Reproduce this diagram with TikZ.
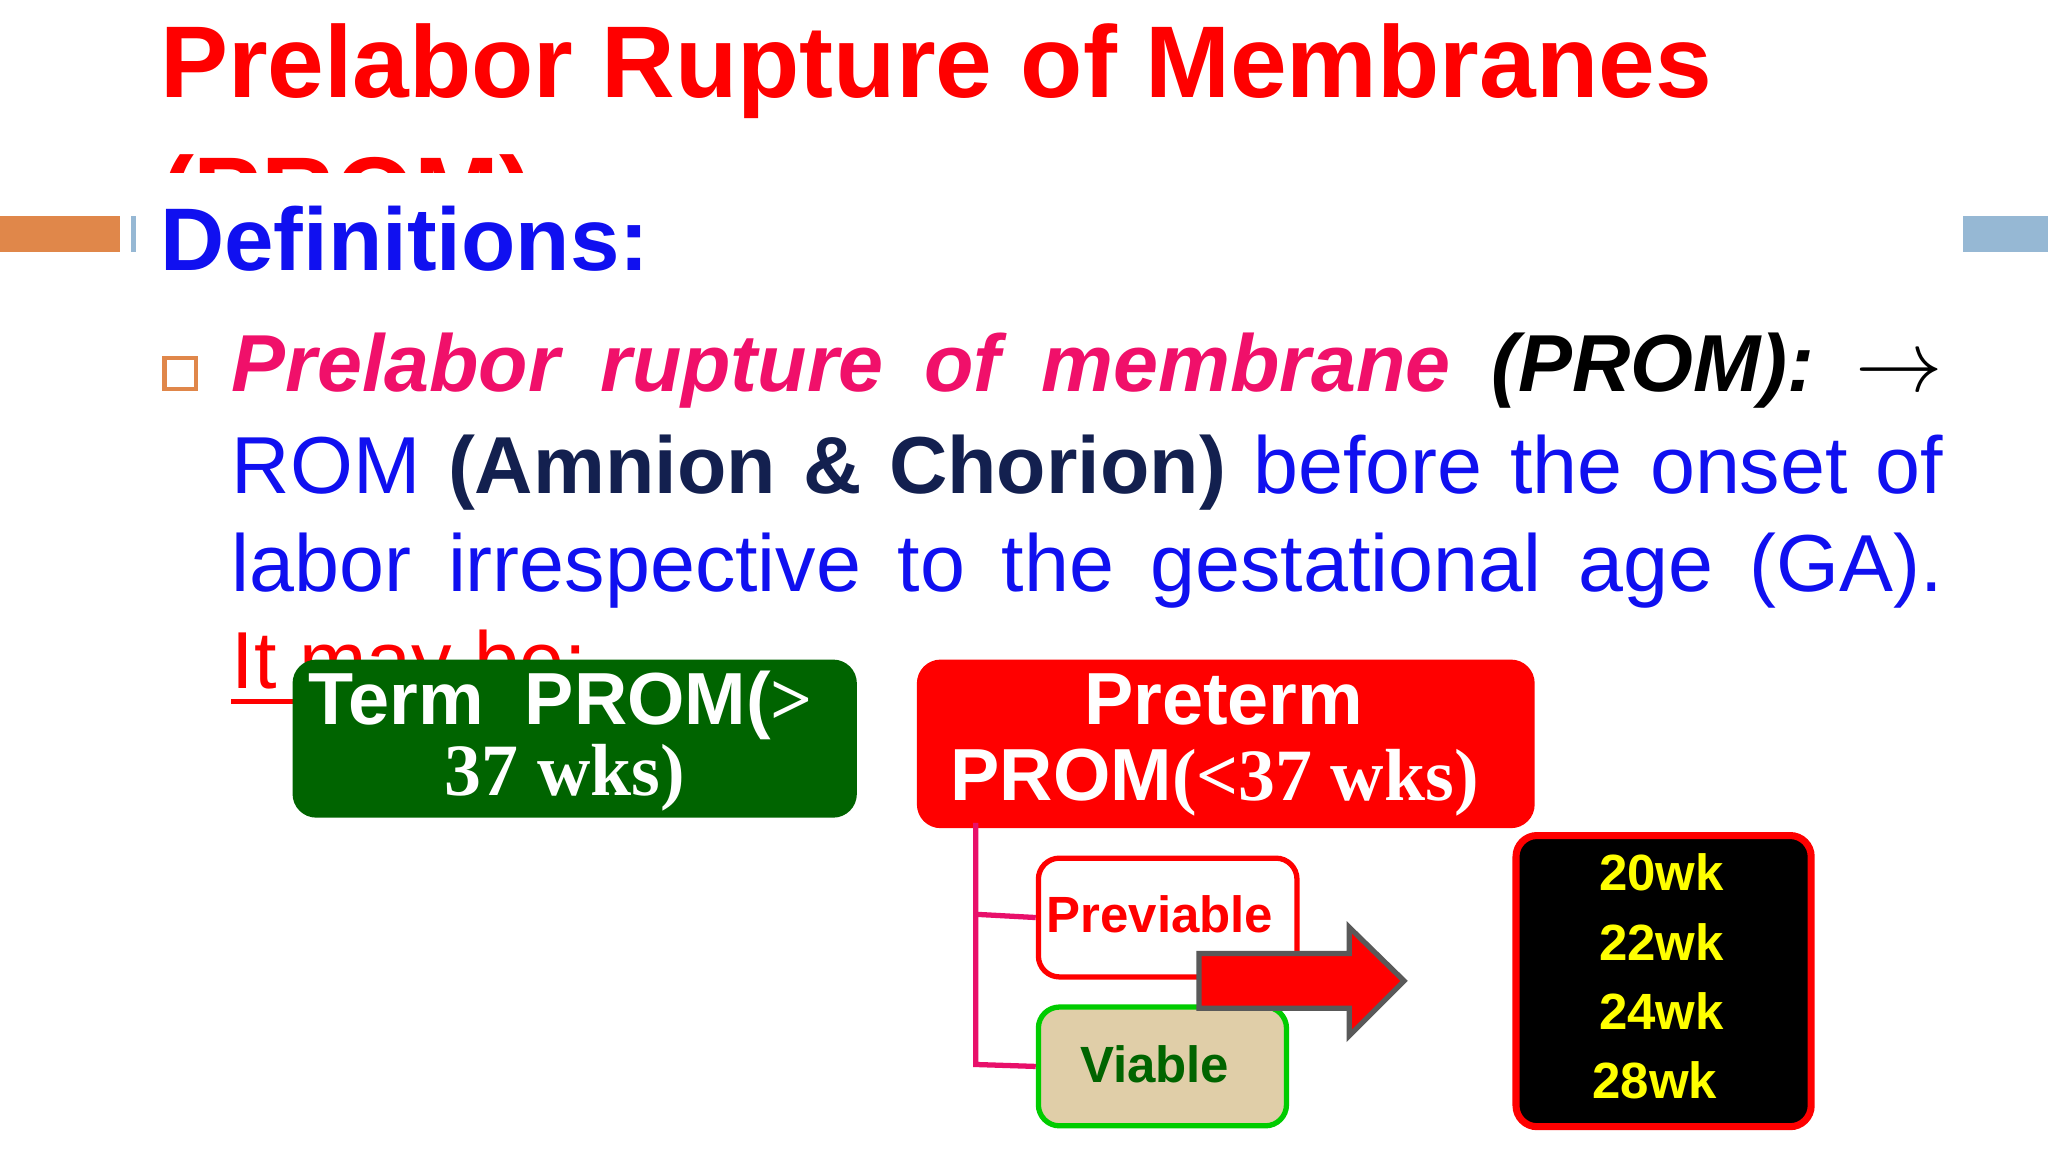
\documentclass[tikz,border=0pt]{standalone}
\usepackage{fontspec}
\setmainfont{Liberation Sans}
\newfontfamily\serifb{Liberation Serif}
\definecolor{tred}{HTML}{FF0000}
\definecolor{dblue}{HTML}{1010F0}
\definecolor{pinkk}{HTML}{F0106A}
\definecolor{navy}{HTML}{13204F}
\definecolor{dgreen}{HTML}{006400}
\definecolor{tan}{HTML}{E0CEA8}
\definecolor{barorange}{HTML}{E0874A}
\definecolor{barblue}{HTML}{96B8D4}
\definecolor{pinkline}{HTML}{E8106A}
\definecolor{yel}{HTML}{FFFF00}
\begin{document}
\begin{tikzpicture}[x=0.01306cm,y=-0.01306cm,
  txt/.style={inner sep=0pt,anchor=base west},
  body/.style={txt,font=\fontsize{23}{27}\selectfont},
  boxr/.style={rounded corners=6pt,draw,line width=1.5pt,anchor=north west,inner sep=0pt}]
\useasboundingbox (0,0) rectangle (1568,882);
\fill[white] (0,0) rectangle (1568,882);
% title
\node[txt,text=tred,font=\fontsize{29}{34}\bfseries\selectfont] (t1) at (122,75) {Prelabor Rupture of Membranes};
\begin{scope}
\clip (0,0) rectangle (1568,132);
\node[txt,text=tred,font=\fontsize{29}{34}\bfseries\selectfont] (t2) at (122,175) {(PROM)};
\end{scope}
% bars
\fill[barorange] (0,165) rectangle (92,193);
\fill[barblue] (100,165) rectangle (104,193);
\fill[barblue] (1503,165) rectangle (1568,193);
\node[txt,text=dblue,font=\fontsize{25.3}{29}\bfseries\selectfont] (def) at (122,207) {Definitions:};
\draw[barorange,line width=1.2pt] (126,274) rectangle (150,298);
% body lines
\node[body] (l1) at (177,300) {\makebox[17.11cm][s]{\color{pinkk}\bfseries\itshape Prelabor rupture of membrane \color{black}(PROM): {\mdseries\upshape$\rightarrow$}}};
\node[body] (l2) at (177,378) {\makebox[17.11cm][s]{\color{dblue}ROM \color{navy}\bfseries(Amnion \& Chorion) \color{dblue}\mdseries before the onset of}};
\node[body] (l3) at (177,453) {\makebox[17.11cm][s]{\color{dblue}labor irrespective to the gestational age (GA).}};
\node[body,text=tred] (l4) at (177,527) {It may be:};
\draw[tred,line width=1.5pt] (l4.base west)++(0,10) -- ++(150,0);
% term box
\node[boxr,draw=dgreen,fill=dgreen,minimum width=5.59cm,minimum height=1.528cm] (term) at (224,505) {};
\node[txt,text=white,font=\fontsize{21}{26}\bfseries\selectfont] (tt1) at (236,555) {Term\ \ PROM(\serifb >};
\node[txt,text=white,font=\fontsize{21}{26}\bfseries\serifb] (tt2) at (340,609) {37 wks)};
% preterm box
\node[boxr,draw=tred,fill=tred,minimum width=6.125cm,minimum height=1.633cm] (pre) at (702,505) {};
\node[inner sep=0pt,anchor=base,text=white,font=\fontsize{21}{26}\bfseries\selectfont] (pt1) at (937,555) {Preterm};
\node[inner sep=0pt,anchor=base,text=white,font=\fontsize{21}{26}\bfseries\selectfont] (pt2) at (930,613) {PROM{\serifb(<37 wks)}};
% subboxes
\node[boxr,draw=tred,fill=white,minimum width=2.586cm,minimum height=1.188cm] (prev) at (793,655) {};
\node[text=tred,font=\fontsize{14.5}{17}\bfseries\selectfont,inner sep=0pt] (prevt) at (888,700) {Previable};
\node[boxr,draw=green!80!black,fill=tan,minimum width=2.481cm,minimum height=1.188cm] (via) at (793,769) {};
\node[text=dgreen,font=\fontsize{14.5}{17}\bfseries\selectfont,inner sep=0pt] (viat) at (884,815) {Viable};
\coordinate (tr) at (747,630);
\draw[pinkline,line width=1.5pt] (tr) -- (747,815) -- (via.west);
\draw[pinkline,line width=1.5pt] (747,700) -- (prev.west);
% arrow
\draw[fill=tred,draw=gray!70!black,line width=1.5pt] (918,730) -- (1033,730) -- (1033,710) -- (1075,751) -- (1033,793) -- (1033,772) -- (918,772) -- cycle;
% black box
\node[boxr,draw=tred,fill=black,line width=2pt,minimum width=2.952cm,minimum height=2.912cm] (wk) at (1158,637) {};
\foreach \t/\yy/\xx in {20wk/668/1272,22wk/721/1272,24wk/774/1272,28wk/827/1267}
  \node[text=yel,font=\fontsize{14.5}{17}\bfseries\selectfont,inner sep=0pt] (w\t) at (\xx,\yy) {\t};
\end{tikzpicture}
\end{document}
